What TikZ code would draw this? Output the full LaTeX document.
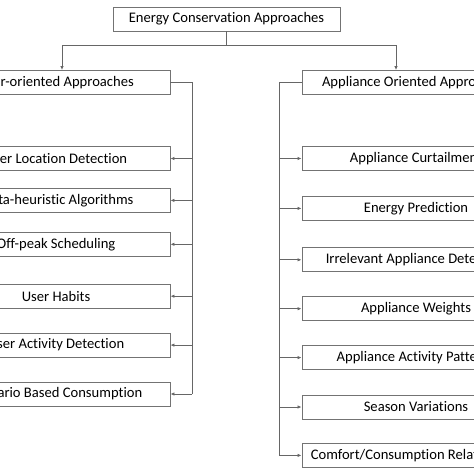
\documentclass[tikz,border=0pt]{standalone}
\usepackage{fontspec}
\setmainfont{Carlito}[Ligatures=NoCommon]
\usetikzlibrary{positioning, arrows.meta}

\begin{document}
\begin{tikzpicture}[
x=1pt, y=-1pt,
approach/.style={rectangle,
  draw=black!55,
  line width=0.9pt,
  fill=white,
  minimum width=228pt,
  minimum height=24pt,
  inner sep=0pt,
  align=center,
  font=\fontsize{14.6}{16}\selectfont
},
link/.style={draw=black!60, line width=0.9pt},
>={Latex[length=4pt,width=3.5pt]}
]
\clip (0,0) rectangle (474,474);
\useasboundingbox (0,0) rectangle (474,474);

\node[approach, minimum width=227pt] (ec) at (226.5,19)
    {Energy Conservation Approaches};
\node[approach] (user) at (56,82.5)
    {User-oriented Approaches};
\node[approach] (app) at (416,82.5)
    {Appliance Oriented Approaches};

% user side
\node[approach] (uloc) at (56,158.5)
    {User Location Detection};
\node[approach, below=17pt of uloc] (meta)
    {Meta-heuristic Algorithms};
\node[approach, below=19pt of meta] (offp)
    {Off-peak Scheduling};
\node[approach, below=27pt of offp] (habit)
    {User Habits};
\node[approach, below=24pt of habit] (uact)
    {User Activity Detection};
\node[approach, below=24pt of uact] (scen)
    {Scenario Based Consumption};

% appliance side
\node[approach] (curt) at (416,158.5)
    {Appliance Curtailment};
\node[approach, below=25pt of curt] (pred)
    {Energy Prediction};
\node[approach, below=26.5pt of pred] (irr)
    {Irrelevant Appliance Detection};
\node[approach, below=24pt of irr] (wgt)
    {Appliance Weights};
\node[approach, below=24pt of wgt] (apat)
    {Appliance Activity Patterns};
\node[approach, below=24.5pt of apat] (seas)
    {Season Variations};
\node[approach, below=23.5pt of seas] (comf)
    {Comfort/Consumption Relationship};

\coordinate (split) at (ec.south |- 0,45);
\draw[link] (ec.south) -- (split);
\draw[link,->] (split) -| (user.north -| 62,0);
\draw[link,->] (split) -| (app.north -| 396,0);

\coordinate (uspine) at (192,0);
\draw[link] (user.east) -| (uspine |- scen.east);
\foreach \n in {uloc, meta, offp, habit, uact, scen}
  \draw[link,->] (uspine |- \n.east) -- (\n.east);

\coordinate (aspine) at (279,0);
\draw[link] (app.west) -| (aspine |- comf.west);
\foreach \n in {curt, pred, irr, wgt, apat, seas, comf}
  \draw[link,->] (aspine |- \n.west) -- (\n.west);
\end{tikzpicture}
\end{document}
